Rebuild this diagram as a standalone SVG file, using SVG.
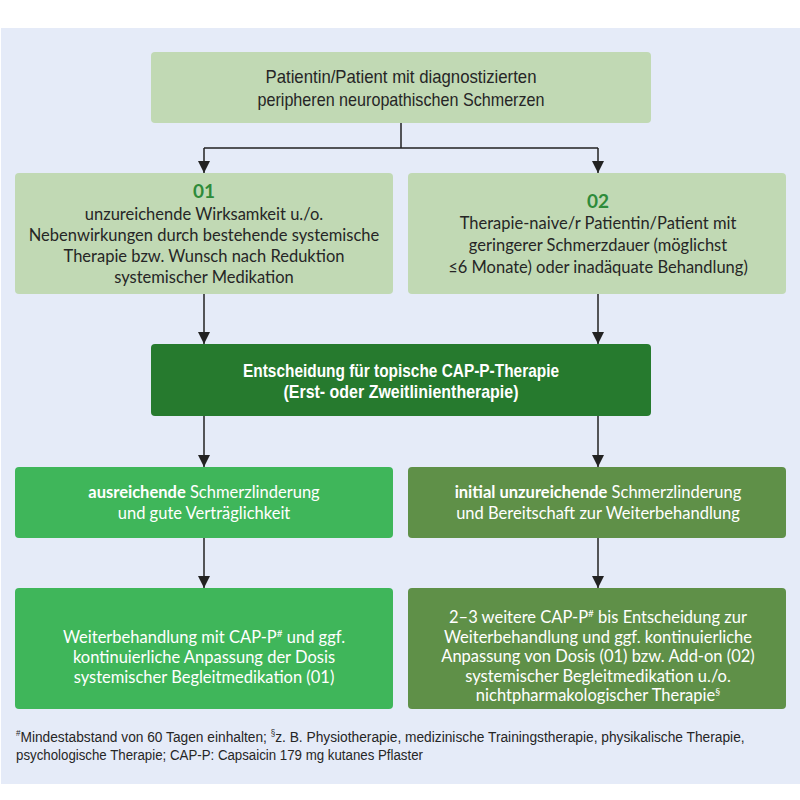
<svg xmlns="http://www.w3.org/2000/svg" width="800" height="800" viewBox="0 0 800 800">
<defs>
<style>
.bg{fill:#e5ebf8}
.lg{fill:#c1d9b4}
.dg{fill:#267a2e}
.bgn{fill:#3fb65a}
.ol{fill:#5f9048}
.t{font-family:Lato,"Open Sans",sans-serif;font-size:16.5px;fill:#262626;text-anchor:middle}
.w{fill:#ffffff}
.num{font-family:Lato,"Open Sans",sans-serif;font-size:19px;font-weight:bold;fill:#2e8b3a;text-anchor:middle}
.c{font-family:"Liberation Sans",Arial,sans-serif;font-size:18.5px;fill:#262626;text-anchor:middle}
.cb{font-family:"Liberation Sans",Arial,sans-serif;font-size:18.5px;font-weight:bold;fill:#ffffff;text-anchor:middle}
.f{font-family:"Liberation Sans",Arial,sans-serif;font-size:15.5px;fill:#262626}
.b{font-weight:bold}
.conn{stroke:#222;stroke-width:1.5;fill:none}
</style>
</defs>
<rect class="bg" x="1" y="28" width="799" height="756"/>

<g id="connectors">
<path class="conn" d="M401,123 V148 M204,148 H598"/>
<path class="conn" d="M204,148 V173"/>
<path class="conn" d="M598,148 V173"/>
<path class="conn" d="M204,294 V344"/>
<path class="conn" d="M598,294 V344"/>
<path class="conn" d="M204,416 V467"/>
<path class="conn" d="M598,416 V467"/>
<path class="conn" d="M204,538 V588"/>
<path class="conn" d="M598,538 V588"/>
<g fill="#222">
<path d="M198,161 L210,161 L204,173 Z"/>
<path d="M592,161 L604,161 L598,173 Z"/>
<path d="M198,332 L210,332 L204,344 Z"/>
<path d="M592,332 L604,332 L598,344 Z"/>
<path d="M198,455 L210,455 L204,467 Z"/>
<path d="M592,455 L604,455 L598,467 Z"/>
<path d="M198,576 L210,576 L204,588 Z"/>
<path d="M592,576 L604,576 L598,588 Z"/>
</g>
</g>

<g id="n-start">
<rect class="lg" x="151" y="52" width="500" height="71" rx="4"/>
<text class="c" x="401" y="83" textLength="271" lengthAdjust="spacingAndGlyphs">Patientin/Patient mit diagnostizierten</text>
<text class="c" x="401" y="106" textLength="287" lengthAdjust="spacingAndGlyphs">peripheren neuropathischen Schmerzen</text>
</g>

<g id="n-01">
<rect class="lg" x="15" y="173" width="378" height="121" rx="4"/>
<text class="num" x="204" y="198">01</text>
<text class="t" x="204" y="220">unzureichende Wirksamkeit u./o.</text>
<text class="t" x="204" y="241">Nebenwirkungen durch bestehende systemische</text>
<text class="t" x="204" y="262">Therapie bzw. Wunsch nach Reduktion</text>
<text class="t" x="204" y="283">systemischer Medikation</text>
</g>

<g id="n-02">
<rect class="lg" x="408" y="173" width="378" height="121" rx="4"/>
<text class="num" x="598" y="208">02</text>
<text class="t" x="598" y="229">Therapie-naive/r Patientin/Patient mit</text>
<text class="t" x="598" y="251">geringerer Schmerzdauer (möglichst</text>
<text class="t" x="598" y="273">≤6 Monate) oder inadäquate Behandlung)</text>
</g>

<g id="n-decision">
<rect class="dg" x="151" y="344" width="500" height="72" rx="4"/>
<text class="cb" x="401" y="377" textLength="316" lengthAdjust="spacingAndGlyphs">Entscheidung für topische CAP-P-Therapie</text>
<text class="cb" x="401" y="398" textLength="235" lengthAdjust="spacingAndGlyphs">(Erst- oder Zweitlinientherapie)</text>
</g>

<g id="n-ausreichend">
<rect class="bgn" x="15" y="467" width="378" height="71" rx="4"/>
<text class="t w" x="204" y="498"><tspan class="b">ausreichende</tspan> Schmerzlinderung</text>
<text class="t w" x="204" y="519">und gute Verträglichkeit</text>
</g>

<g id="n-unzureichend">
<rect class="ol" x="408" y="467" width="378" height="71" rx="4"/>
<text class="t w" x="598" y="498"><tspan class="b">initial unzureichende</tspan> Schmerzlinderung</text>
<text class="t w" x="598" y="519">und Bereitschaft zur Weiterbehandlung</text>
</g>

<g id="n-weiter">
<rect class="bgn" x="15" y="588" width="378" height="121" rx="4"/>
<text class="t w" x="204" y="643">Weiterbehandlung mit CAP-P<tspan font-size="10" dy="-6">#</tspan><tspan dy="6"> und ggf.</tspan></text>
<text class="t w" x="204" y="663">kontinuierliche Anpassung der Dosis</text>
<text class="t w" x="204" y="683">systemischer Begleitmedikation (01)</text>
</g>

<g id="n-weitere">
<rect class="ol" x="408" y="588" width="378" height="121" rx="4"/>
<text class="t w" x="598" y="623">2–3 weitere CAP-P<tspan font-size="10" dy="-6">#</tspan><tspan dy="6"> bis Entscheidung zur</tspan></text>
<text class="t w" x="598" y="643">Weiterbehandlung und ggf. kontinuierliche</text>
<text class="t w" x="598" y="662">Anpassung von Dosis (01) bzw. Add-on (02)</text>
<text class="t w" x="598" y="682">systemischer Begleitmedikation u./o.</text>
<text class="t w" x="598" y="701">nichtpharmakologischer Therapie<tspan font-size="10" dy="-6">§</tspan></text>
</g>

<g id="footer">
<g transform="translate(16,0) scale(0.887,1)">
<text class="f" x="0" y="742"><tspan font-size="9" dy="-6">#</tspan><tspan dy="6">Mindestabstand von 60 Tagen einhalten; </tspan><tspan font-size="9" dy="-6">§</tspan><tspan dy="6">z. B. Physiotherapie, medizinische Trainingstherapie, physikalische Therapie,</tspan></text>
</g>
<g transform="translate(16,0) scale(0.857,1)">
<text class="f" x="0" y="760">psychologische Therapie; CAP-P: Capsaicin 179 mg kutanes Pflaster</text>
</g>
</g>
</svg>
